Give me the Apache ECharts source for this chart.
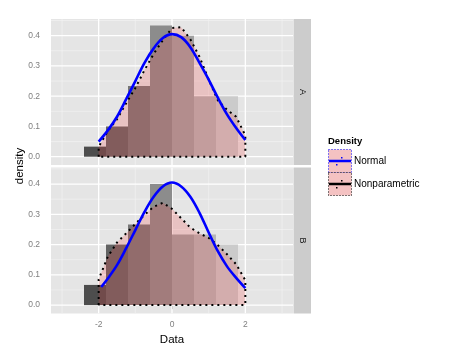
<!DOCTYPE html>
<html><head><meta charset="utf-8">
<script src="https://cdn.jsdelivr.net/npm/echarts@6/dist/echarts.min.js"></script>
<style>html,body{margin:0;padding:0;background:#fff}#c{width:459px;height:356px}</style>
</head><body><div id="c"></div>
<script>
// ---- data ----
const binStarts = [-2.4, -1.8, -1.2, -0.6, 0, 0.6, 1.2];
const binWidth = 0.6;
const histA = [0.0333, 0.1, 0.2333, 0.4333, 0.4, 0.2, 0.2];
const histB = [0.0667, 0.2, 0.2667, 0.4, 0.2333, 0.2333, 0.2];

const densX = [-2, -1.75, -1.5, -1.25, -1, -0.75, -0.5, -0.25, 0, 0.25, 0.5, 0.75, 1, 1.25, 1.5, 1.75, 2];
const kdeA  = [0.033, 0.085, 0.124, 0.177, 0.227, 0.286, 0.34, 0.385, 0.425, 0.428, 0.388, 0.33, 0.255, 0.186, 0.155, 0.132, 0.07];
const kdeB  = [0.085, 0.16, 0.207, 0.237, 0.268, 0.298, 0.325, 0.338, 0.318, 0.287, 0.256, 0.237, 0.222, 0.198, 0.168, 0.135, 0.082];
const normA = [0.05, 0.087, 0.132, 0.19, 0.25, 0.31, 0.358, 0.392, 0.405, 0.395, 0.362, 0.31, 0.255, 0.195, 0.14, 0.095, 0.055];
const normXB = [-1.93, -1.75, -1.5, -1.25, -1, -0.75, -0.5, -0.25, 0, 0.25, 0.5, 0.75, 1, 1.25, 1.5, 1.75, 2];
const normB = [0.06, 0.088, 0.132, 0.188, 0.248, 0.308, 0.358, 0.392, 0.405, 0.392, 0.358, 0.305, 0.24, 0.178, 0.128, 0.09, 0.056];

const xMajor = [-2, 0, 2];
const xMinor = [-3, -1, 1, 3];
const yMajor = [0, 0.1, 0.2, 0.3, 0.4];
const yMinor = [0.05, 0.15, 0.25, 0.35, 0.45];
const xTickLabels = [-2, 0, 2];
const yTickLabels = [0, 0.1, 0.2, 0.3, 0.4];
const panels = ['A', 'B'];

// ---- chart ----
const FONT = '"Liberation Sans", Arial, sans-serif';
const chart = echarts.init(document.getElementById('c'), null, {renderer: 'canvas'});
const grids = [
  {left: 51, top: 19, width: 242, height: 146},
  {left: 51, top: 167.4, width: 242, height: 146}
];

function vLines(vals, gi, w, color) {
  return {
    type: 'custom', xAxisIndex: gi, yAxisIndex: gi, z: 1, silent: true, clip: true,
    data: vals.map(v => [v, 0]),
    renderItem: (params, api) => {
      const cs = params.coordSys;
      const x = api.coord([api.value(0), 0])[0];
      return {type: 'line', shape: {x1: x, y1: cs.y, x2: x, y2: cs.y + cs.height},
        style: {stroke: color, lineWidth: w}};
    }
  };
}
function hLines(vals, gi, w, color) {
  return {
    type: 'custom', xAxisIndex: gi, yAxisIndex: gi, z: 1, silent: true, clip: true,
    data: vals.map(v => [0, v]),
    renderItem: (params, api) => {
      const cs = params.coordSys;
      const y = api.coord([0, api.value(1)])[1];
      return {type: 'line', shape: {x1: cs.x, y1: y, x2: cs.x + cs.width, y2: y},
        style: {stroke: color, lineWidth: w}};
    }
  };
}
function barSeries(hist, gi) {
  const n = hist.length;
  return {
    type: 'custom', xAxisIndex: gi, yAxisIndex: gi, z: 2, silent: true,
    data: binStarts.map((s, i) => [s, s + binWidth, hist[i], i]),
    encode: {x: [0, 1], y: 2},
    renderItem: (params, api) => {
      const p0 = api.coord([api.value(0), 0]);
      const p1 = api.coord([api.value(1), api.value(2)]);
      const i = api.value(3);
      const g = Math.round(77 + (203 - 77) * i / (n - 1));
      return {type: 'rect', shape: {x: p0[0], y: p1[1], width: p1[0] - p0[0], height: p0[1] - p1[1]},
        style: {fill: `rgb(${g},${g},${g})`}};
    }
  };
}
function kdeSeries(vals, gi) {
  const pts = [[densX[0], 0]].concat(densX.map((x, i) => [x, vals[i]]), [[densX[densX.length - 1], 0], [densX[0], 0]]);
  return {
    type: 'line', xAxisIndex: gi, yAxisIndex: gi, z: 3, silent: true, symbol: 'none',
    data: pts, smooth: false,
    lineStyle: {color: '#000', width: 2, type: [2, 4], cap: 'butt'},
    areaStyle: {color: 'rgba(240,70,70,0.32)', origin: 'start'}
  };
}
function normSeries(xs, vals, gi) {
  return {
    type: 'line', xAxisIndex: gi, yAxisIndex: gi, z: 4, silent: true, symbol: 'none',
    data: xs.map((x, i) => [x, vals[i]]), smooth: 0.35,
    lineStyle: {color: '#0000FF', width: 2.6}
  };
}

const series = [];
[0, 1].forEach(gi => {
  series.push(vLines(xMinor, gi, 0.7, '#F2F2F2'));
  series.push(hLines(yMinor, gi, 0.7, '#F2F2F2'));
  series.push(vLines(xMajor, gi, 1.3, '#FFFFFF'));
  series.push(hLines(yMajor, gi, 1.3, '#FFFFFF'));
  series.push(barSeries(gi === 0 ? histA : histB, gi));
  series.push(kdeSeries(gi === 0 ? kdeA : kdeB, gi));
});
series.push(normSeries(densX, normA, 0));
series.push(normSeries(normXB, normB, 1));

const xAxes = [0, 1].map(gi => ({
  type: 'value', gridIndex: gi, min: -3.3, max: 3.3,
  splitLine: {show: false}, axisLine: {show: false},
  axisTick: {show: gi === 1, customValues: xTickLabels, length: 4, lineStyle: {color: '#7F7F7F', width: 1}},
  axisLabel: {show: gi === 1, customValues: xTickLabels, color: '#7F7F7F', fontSize: 8.5, fontFamily: FONT, margin: 7},
  name: gi === 1 ? 'Data' : '', nameLocation: 'middle', nameGap: 20,
  nameTextStyle: {color: '#000', fontSize: 11.5, fontFamily: FONT}
}));
const yAxes = [0, 1].map(gi => ({
  type: 'value', gridIndex: gi, min: -0.0274, max: 0.455,
  splitLine: {show: false}, axisLine: {show: false},
  axisTick: {show: true, customValues: yTickLabels, length: 6, lineStyle: {color: '#7F7F7F', width: 1}},
  axisLabel: {show: true, customValues: yTickLabels, color: '#7F7F7F', fontSize: 8.5, fontFamily: FONT, margin: 11,
    formatter: v => Number(v).toFixed(1)}
}));

const graphics = [];
grids.forEach((g, gi) => {
  graphics.push({type: 'rect', shape: {x: g.left + g.width + 0.5, y: g.top, width: 17.5, height: g.height},
    style: {fill: '#CCCCCC'}, silent: true});
  graphics.push({type: 'text', x: g.left + g.width + 9.5, y: g.top + g.height / 2, rotation: -Math.PI / 2,
    style: {text: panels[gi], fill: '#1A1A1A', font: '9px ' + FONT, align: 'center', verticalAlign: 'middle'}, silent: true});
});
graphics.push({type: 'text', x: 20, y: 166, rotation: Math.PI / 2,
  style: {text: 'density', fill: '#000', font: '11.5px ' + FONT, align: 'center', verticalAlign: 'middle'}});
// legend
graphics.push({type: 'text', x: 328, y: 141, style: {text: 'Density', fill: '#000', font: 'bold 9.5px ' + FONT, align: 'left', verticalAlign: 'middle'}});
const keys = [{label: 'Normal', color: '#0000FF', y: 149.5}, {label: 'Nonparametric', color: '#000000', y: 172.5}];
keys.forEach(k => {
  graphics.push({type: 'rect', shape: {x: 328.5, y: k.y, width: 23, height: 23},
    style: {fill: '#F4C2C2', stroke: k.color, lineWidth: 1, lineDash: [1, 2]}});
  graphics.push({type: 'line', shape: {x1: 329, y1: k.y + 11.5, x2: 351, y2: k.y + 11.5},
    style: {stroke: k.color, lineWidth: 2.5}});
  graphics.push({type: 'rect', shape: {x: 341, y: k.y + 7.5, width: 1.5, height: 1.5}, style: {fill: k.color}});
  graphics.push({type: 'rect', shape: {x: 336, y: k.y + 14.5, width: 1.5, height: 1.5}, style: {fill: k.color}});
  graphics.push({type: 'text', x: 354, y: k.y + 12, style: {text: k.label, fill: '#000', font: '10px ' + FONT, align: 'left', verticalAlign: 'middle'}});
});

chart.setOption({
  animation: false,
  backgroundColor: '#FFFFFF',
  grid: grids.map(g => Object.assign({show: true, backgroundColor: '#E5E5E5', borderWidth: 0, containLabel: false}, g)),
  xAxis: xAxes,
  yAxis: yAxes,
  series: series,
  graphic: graphics
});
</script></body></html>
